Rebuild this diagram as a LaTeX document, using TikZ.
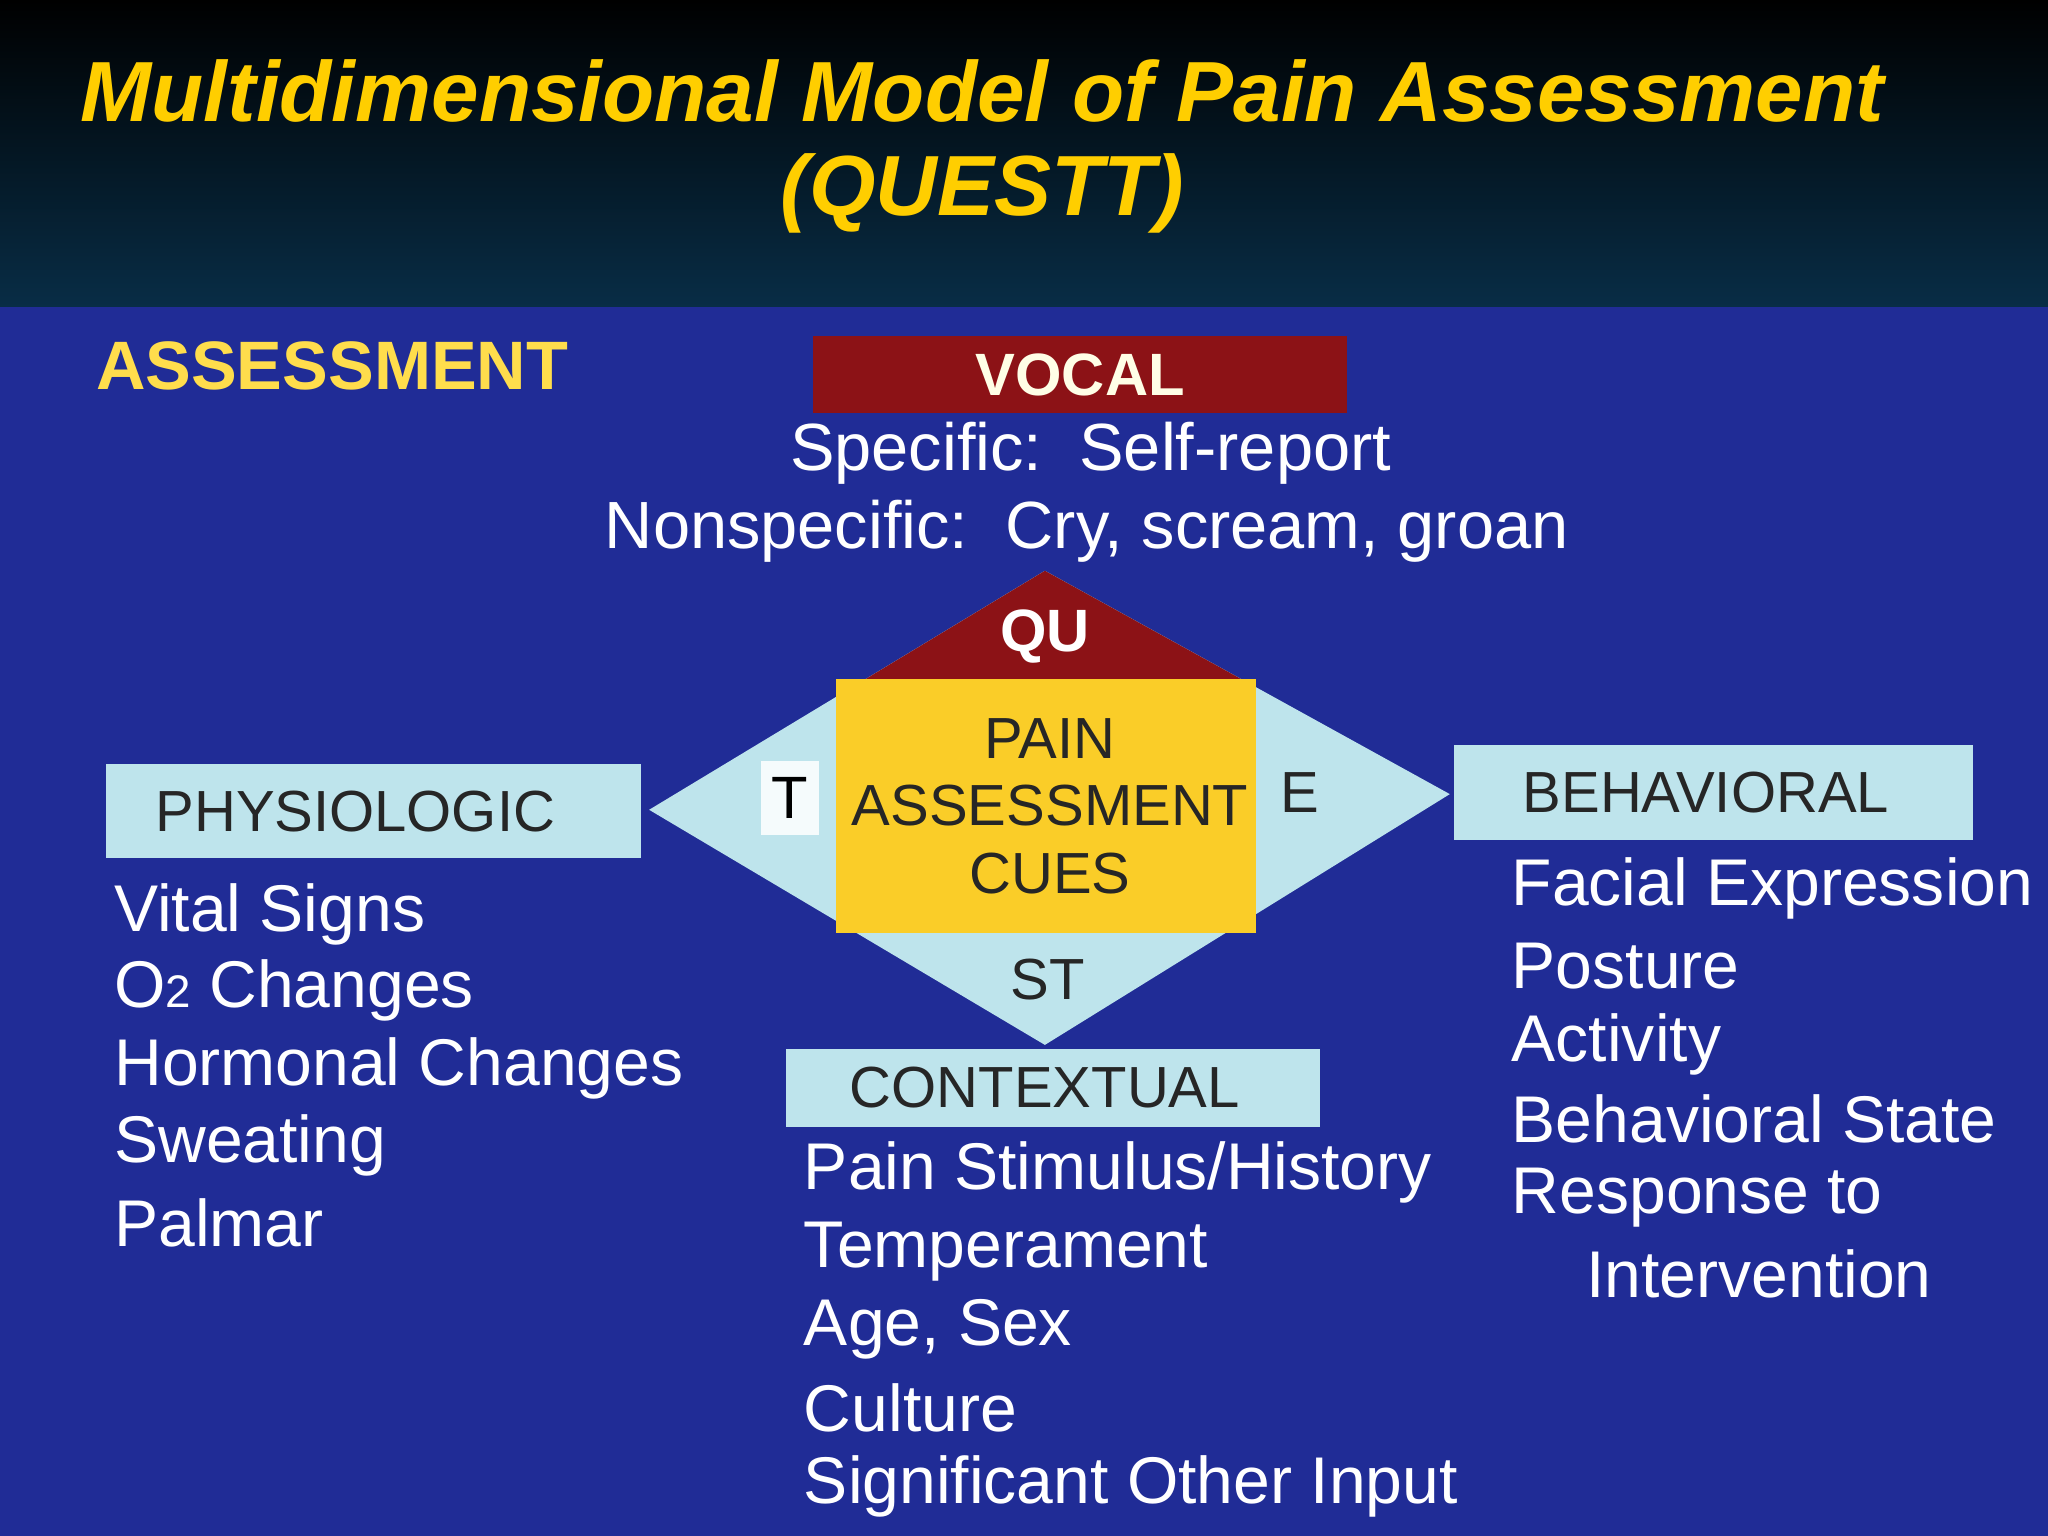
\documentclass[tikz,border=0pt]{standalone}
\usepackage{fontspec}
\setmainfont{Liberation Sans}
\begin{document}
\begin{tikzpicture}[x=0.013061cm,y=-0.013061cm,
  lab/.style={font=\fontsize{16.5}{19}\selectfont, text=black!85},
  lst/.style={font=\fontsize{18.8}{22}\selectfont, text=white, anchor=west},
  ttl/.style={font=\fontsize{24.3}{28}\selectfont\bfseries\itshape, text=gold}]
\definecolor{bgblue}{RGB}{32,44,150}
\definecolor{lblue}{RGB}{190,228,236}
\definecolor{dred}{RGB}{140,18,22}
\definecolor{ylw}{RGB}{250,205,40}
\definecolor{gold}{RGB}{255,206,0}
\useasboundingbox (0,0) rectangle (1568,1176);
\fill[bgblue] (0,0) rectangle (1568,1176);
\shade[top color=black, bottom color={rgb,255:red,8;green,45;blue,70}] (0,0) rectangle (1568,235);
\node[ttl] (t1) at (752,70) {Multidimensional Model of Pain Assessment};
\node[ttl] (t2) at (752,148) {(QUESTT)};
\node[font=\fontsize{19.5}{22}\selectfont\bfseries, text=gold!70!white, anchor=west] (asm) at (64,280) {ASSESSMENT};
% vocal
\node[fill=dred, minimum width={409*0.3716pt}, minimum height={59*0.3716pt}, inner sep=0, text=white!90!yellow, font=\fontsize{17}{20}\selectfont\bfseries] (vocal) at (827,287) {VOCAL};
\node[font=\fontsize{19}{22}\selectfont, text=white] (spec) at (835,347) {Specific:\ \ Self-report};
\node[font=\fontsize{19}{22}\selectfont, text=white] (nspec) at (832,407) {Nonspecific:\ \ Cry, scream, groan};
% diamond
\fill[lblue] (800,437) -- (1110,608) -- (800,800) -- (497,620) -- cycle;
\begin{scope}
\clip (800,437) -- (1110,608) -- (800,800) -- (497,620) -- cycle;
\fill[dred] (400,430) rectangle (1200,520);
\end{scope}
\node[fill=ylw, minimum width={322*0.3716pt}, minimum height={195*0.3716pt}, inner sep=0] (cues) at (801,617) {};
\node[lab, align=center, font=\fontsize{16.5}{19.2}\selectfont] at (804,617) {PAIN\\ASSESSMENT\\CUES};
\node[text=white, font=\fontsize{17}{20}\selectfont\bfseries] (qu) at (800,487) {QU};
\node[fill=white!85!lblue, minimum width={44*0.3716pt}, minimum height={57*0.3716pt}, inner sep=0, font=\fontsize{17}{20}\selectfont] (T) at (605,611) {T};
\node[lab] (E) at (995,607) {E};
\node[lab] (ST) at (802,750) {ST};
% boxes
\node[fill=lblue, minimum width={409*0.3716pt}, minimum height={72*0.3716pt}, inner sep=0] (phys) at (286,621) {};
\node[lab] at (272,621) {PHYSIOLOGIC};
\node[fill=lblue, minimum width={397*0.3716pt}, minimum height={73*0.3716pt}, inner sep=0] (beh) at (1312,607) {};
\node[lab] at (1306,607) {BEHAVIORAL};
\node[fill=lblue, minimum width={409*0.3716pt}, minimum height={59*0.3716pt}, inner sep=0] (ctx) at (806,833) {};
\node[lab] at (800,833) {CONTEXTUAL};
% lists
\node[lst] (p1) at (78,700) {Vital Signs};
\node[lst] (p2) at (78,758) {O{\fontsize{13}{15}\selectfont 2} Changes};
\node[lst] (p3) at (78,818) {Hormonal Changes};
\node[lst] (p4) at (78,877) {Sweating};
\node[lst] (p5) at (78,936) {Palmar};
\node[lst] (b1) at (1148,680) {Facial Expression};
\node[lst] (b2) at (1148,740) {Posture};
\node[lst] (b3) at (1148,800) {Activity};
\node[lst] (b4) at (1148,857) {Behavioral State};
\node[lst] (b5) at (1148,917) {Response to};
\node[lst] (b6) at (1205,975) {Intervention};
\node[lst] (c1) at (606,898) {Pain Stimulus/History};
\node[lst] (c2) at (606,958) {Temperament};
\node[lst] (c3) at (606,1018) {Age, Sex};
\node[lst] (c4) at (606,1078) {Culture};
\node[lst] (c5) at (606,1138) {Significant Other Input};
\end{tikzpicture}
\end{document}
